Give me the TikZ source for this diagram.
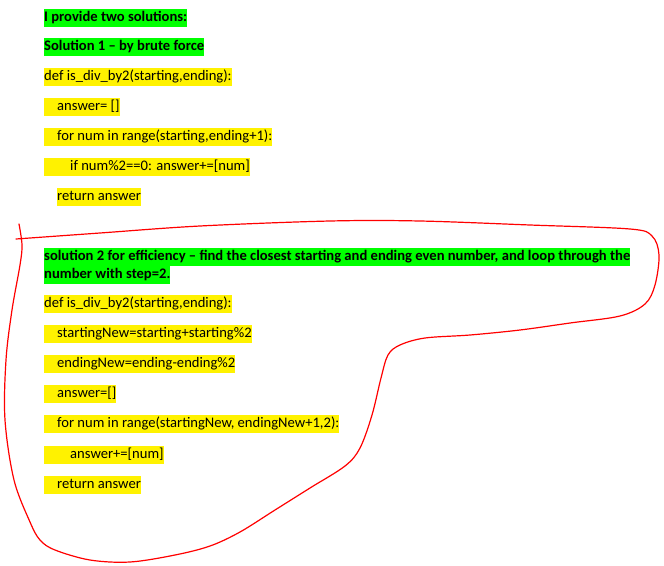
\documentclass[tikz,border=0pt]{standalone}
\usepackage{fontspec}
\setmainfont{Carlito}
\begin{document}
\begin{tikzpicture}[x=1pt,y=-1pt,
  hl/.style={anchor=west,fill=yellow,inner xsep=0pt,inner ysep=1.5pt,text height=11pt,text depth=3.5pt,font=\fontsize{14.6pt}{17pt}\selectfont},
  gl/.style={hl,fill=green,font=\fontsize{14.6pt}{17pt}\selectfont\bfseries}]
\useasboundingbox (0,0) rectangle (664,565);
\def\ia{\hspace{13pt}}
\node[gl] (t1) at (44,18) {I provide two solutions:};
\node[gl] (t2) at (44,47) {Solution 1 – by brute force};
\node[hl] (a1) at (44,77) {def is\_div\_by2(starting,ending):};
\node[hl] (a2) at (44,107) {\ia answer= []};
\node[hl] (a3) at (44,137) {\ia for num in range(starting,ending+1):};
\node[hl] (a4) at (44,167) {\ia\ia if num\%2==0: answer+=[num]};
\node[hl] (a5) at (57,197) {return answer};
\node[gl] (s1) at (44,257) {solution 2 for efficiency – find the closest starting and ending even number, and loop through the};
\node[gl] (s2) at (44,275) {number with step=2.};
\node[hl] (b1) at (44,304) {def is\_div\_by2(starting,ending):};
\node[hl] (b2) at (44,334) {\ia startingNew=starting+starting\%2};
\node[hl] (b3) at (44,364) {\ia endingNew=ending-ending\%2};
\node[hl] (b4) at (44,394) {\ia answer=[]};
\node[hl] (b5) at (44,424) {\ia for num in range(startingNew, endingNew+1,2):};
\node[hl] (b6) at (44,455) {\ia\ia answer+=[num]};
\node[hl] (b7) at (44,485) {\ia return answer};
\draw[red,line width=1.2pt,line join=round,line cap=round] plot[smooth,tension=0.55] coordinates {
 (19,224) (22,245) (20,265) (12,310) (6,360) (5,420) (14,480) (30,522) (40,540) (55,550) (90,560) (130,562) (175,555) (210,546) (240,532) (275,510) (310,488) (345,466) (360,448) (372,415) (381,378) (388,355) (400,345) (425,338) (470,335) (520,330) (570,323) (620,316) (645,304) (655,285) (659,255) (652,236) (630,229) (530,225) (420,221) (330,221) (200,226) (100,233) (16,239)};
\end{tikzpicture}
\end{document}
